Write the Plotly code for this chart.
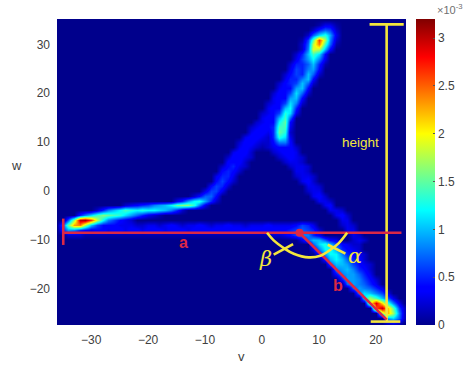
import numpy as np
import plotly.graph_objects as go

# density, in units of 1e-4: (w, first v of the run, values at v, v+1, ...)
density_runs = [
    (34, 10, [1, 3, 3, 1]),
    (33, 9, [2, 5, 7, 6, 2]),
    (32, 8, [2, 7, 11, 13, 9, 3]),
    (31, 7, [1, 6, 15, 26, 17, 8, 2]),
    (30, 7, [2, 7, 18, 24, 14, 7, 1]),
    (29, 7, [2, 8, 19, 18, 10, 4]),
    (28, 6, [2, 5, 10, 14, 11, 4]),
    (27, 6, [3, 6, 9, 12, 8, 3]),
    (26, 5, [2, 5, 5, 7, 10, 5, 1]),
    (25, 5, [3, 6, 5, 8, 9, 4]),
    (24, 4, [2, 4, 6, 5, 10, 7, 2]),
    (23, 4, [3, 5, 5, 8, 10, 4]),
    (22, 3, [2, 4, 5, 6, 10, 7, 2]),
    (21, 3, [3, 4, 4, 9, 10, 4]),
    (20, 2, [2, 4, 4, 6, 11, 7, 2]),
    (19, 2, [3, 4, 4, 9, 10, 4]),
    (18, 1, [2, 3, 4, 6, 11, 8, 2]),
    (17, 1, [3, 4, 4, 10, 12, 5]),
    (16, 0, [2, 3, 4, 6, 13, 11, 3]),
    (15, 0, [3, 4, 4, 10, 14, 7]),
    (14, -1, [2, 3, 4, 4, 12, 15, 4]),
    (13, -2, [2, 3, 4, 4, 5, 14, 14, 3]),
    (12, -2, [3, 4, 4, 3, 5, 15, 13, 2]),
    (11, -3, [3, 4, 4, 3, 2, 5, 13, 11, 3]),
    (10, -4, [2, 4, 4, 3, 2, 2, 4, 8, 8, 4]),
    (9, -4, [3, 4, 3, 2, 1, 2, 3, 4, 4, 4, 2]),
    (8, -5, [3, 4, 4, 2]), (8, 2, [2, 3, 4, 4, 3]),
    (7, -6, [2, 4, 4, 3, 2]), (7, 3, [2, 3, 4, 3, 2]),
    (6, -6, [4, 4, 4, 2]), (6, 4, [2, 3, 3, 2]),
    (5, -7, [2, 4, 5, 3, 2]), (5, 5, [2, 3, 3, 2]),
    (4, -7, [4, 5, 4, 2]), (4, 6, [3, 3, 2]),
    (3, -8, [3, 5, 5, 3]), (3, 6, [2, 3, 3, 2]),
    (2, -8, [4, 6, 4, 2]), (2, 7, [3, 4, 2]),
    (1, -9, [4, 6, 5, 2]), (1, 8, [3, 3, 2]),
    (0, -10, [3, 6, 6, 3]), (0, 8, [2, 3, 3]),
    (-1, -12, [2, 4, 7, 7, 4]), (-1, 9, [3, 4, 2]),
    (-2, -15, [3, 5, 9, 12, 13, 9, 5, 2]), (-2, 10, [3, 3, 2]),
    (-3, -24, [2, 3, 4, 5, 6, 8, 9, 10, 12, 15, 16, 16, 13, 8, 3]), (-3, 11, [3, 4]),
    (-4, -29, [2, 5, 8, 10, 12, 14, 13, 12, 13, 12, 12, 11, 10, 8, 5, 2]), (-4, 12, [3, 3, 2]),
    (-5, -32, [5, 8, 11, 14, 16, 15, 14, 13, 11, 9, 7, 5, 3, 2, 1]), (-5, 13, [3, 4, 2]),
    (-6, -34, [7, 17, 30, 31, 26, 18, 12, 8, 6, 4, 3, 2]), (-6, 14, [3, 3]),
    (-7, -35, [7, 15, 23, 24, 17, 10, 6, 4, 4, 4, 3, 3, 3, 2]),
    (-7, -21, [2, 3, 3, 2, 3, 4, 3, 2, 3, 3, 4, 3, 2, 3, 3, 4, 3, 3, 2, 3, 3, 3, 4, 3, 3]),
    (-7, 4, [3, 3, 4, 6, 5, 3]), (-7, 14, [2, 3, 2]),
    (-8, -35, [5, 9, 8, 5, 4, 3, 4, 4, 3, 4, 4, 3, 4, 4, 3, 4, 4, 4, 3, 4, 4, 4, 3, 4, 4, 4, 4, 4, 4, 4, 4, 4, 4, 4, 4, 4, 4, 4, 4, 4, 5, 6, 7, 6, 5, 2]), (-8, 15, [3, 3]),
    (-9, -34, [2, 2, 2, 1, 1, 1, 1, 1, 1, 1, 1, 1, 1, 1, 1, 1, 1, 1, 1, 1, 1, 1, 1, 1, 1, 1, 1, 1, 1, 1, 1, 1, 1, 1, 1, 1, 2, 2, 3, 4, 6, 8, 8, 5, 3]), (-9, 16, [3, 2]),
    (-10, 7, [3, 7, 10, 10, 7, 4, 3]), (-10, 16, [2, 3, 2]),
    (-11, 9, [7, 11, 13, 10, 6, 4, 3, 2, 2]),
    (-12, 9, [3, 8, 12, 13, 9, 5, 4, 3, 2]),
    (-13, 10, [4, 9, 12, 12, 8, 5, 4, 3, 2]),
    (-14, 11, [5, 10, 12, 10, 7, 5, 4, 2]),
    (-15, 12, [7, 10, 10, 9, 6, 4, 3, 2]),
    (-16, 13, [8, 9, 10, 8, 5, 4, 2]),
    (-17, 13, [4, 8, 9, 9, 7, 5, 3]),
    (-18, 14, [5, 9, 9, 8, 6, 4, 2]),
    (-19, 15, [7, 9, 8, 7, 5, 3]),
    (-20, 16, [7, 9, 8, 7, 5, 3]),
    (-21, 17, [8, 11, 10, 8, 6, 3]),
    (-22, 18, [11, 17, 14, 10, 7, 3]),
    (-23, 19, [19, 29, 21, 14, 8, 3]),
    (-24, 20, [25, 30, 23, 15, 6, 2]),
    (-25, 21, [17, 23, 17, 8, 2]),
    (-26, 22, [9, 11, 7, 2]),
    (-27, 22, [2, 3, 2]),
]

v_values = list(range(-36, 27))
w_values = list(range(-28, 37))

x_ticks = [-30, -20, -10, 0, 10, 20]
y_ticks = [-20, -10, 0, 10, 20, 30]
bar_ticks = [0, 0.5, 1, 1.5, 2, 2.5, 3]
bar_labels = ["0", "0.5", "1", "1.5", "2", "2.5", "3"]

line_a_v, line_a_w = [-34.9, 24.5], [-8.6, -8.6]
cap_a_v, cap_a_w = [-34.9, -34.9], [-5.7, -11.1]
line_b_v, line_b_w = [6.6, 21.9], [-8.6, -26.4]
apex_v, apex_w = [6.6], [-8.6]
height_v, height_w = [21.9, 21.9], [34.1, -26.8]
top_cap_v, top_cap_w = [18.9, 24.9], [34.1, 34.1]
bottom_cap_v, bottom_cap_w = [19.1, 24.3], [-26.8, -26.8]
arc_v = [0.89, 2.06, 3.82, 5.58, 8.22, 10.27, 12.03, 13.5, 14.96]
arc_w = [-8.6, -10.16, -11.73, -12.89, -13.64, -13.3, -12.07, -10.71, -8.6]
beta_tick_v, beta_tick_w = [2.06, 5.47], [-13.1, -10.91]
alpha_tick_v, alpha_tick_w = [11.56, 14.66], [-11.05, -12.89]

density = np.zeros((len(w_values), len(v_values)))
for w, v0, vals in density_runs:
    for k, val in enumerate(vals):
        density[w - w_values[0], v0 + k - v_values[0]] = val / 10.0

jet = [
    [0.0, "rgb(0,0,140)"], [0.11, "rgb(0,0,255)"], [0.125, "rgb(0,0,255)"],
    [0.375, "rgb(0,255,255)"], [0.625, "rgb(255,255,0)"],
    [0.875, "rgb(255,0,0)"], [1.0, "rgb(128,0,0)"],
]

GREY = "#404040"
RED = "#dc2846"
YELLOW = "#f4e63c"
FONT = "Liberation Sans"

fig = go.Figure()
fig.add_trace(go.Heatmap(
    x=v_values, y=w_values, z=density, zmin=0, zmax=3.2, zsmooth="best",
    colorscale=jet, hoverinfo="skip",
    colorbar=dict(
        x=1.0286, xanchor="left", xpad=0, y=0, yanchor="bottom", ypad=0, len=1,
        thickness=19, outlinewidth=0,
        tickmode="array", tickvals=bar_ticks, ticktext=bar_labels,
        ticks="inside", ticklen=2, tickcolor="#555555",
        tickfont=dict(family=FONT, size=12, color=GREY),
    ),
))


def add_line(v, w, color, width=2.6):
    fig.add_trace(go.Scatter(x=v, y=w, mode="lines", line=dict(color=color, width=width),
                             hoverinfo="skip", showlegend=False))


add_line(height_v, height_w, YELLOW)
add_line(top_cap_v, top_cap_w, YELLOW)
add_line(bottom_cap_v, bottom_cap_w, YELLOW)
add_line(line_a_v, line_a_w, RED)
add_line(cap_a_v, cap_a_w, RED)
add_line(line_b_v, line_b_w, RED)
add_line(beta_tick_v, beta_tick_w, YELLOW)
add_line(alpha_tick_v, alpha_tick_w, YELLOW)
fig.add_trace(go.Scatter(x=arc_v, y=arc_w, mode="lines",
                         line=dict(color=YELLOW, width=2.6, shape="spline"),
                         hoverinfo="skip", showlegend=False))
fig.add_trace(go.Scatter(x=apex_v, y=apex_w, mode="markers",
                         marker=dict(color=RED, size=8), hoverinfo="skip", showlegend=False))


def note(text, v, w, color, size, family=FONT, bold=False):
    label = f"<b>{text}</b>" if bold else text
    fig.add_annotation(x=v, y=w, xref="x", yref="y", text=label, showarrow=False,
                       font=dict(family=family, size=size, color=color))


note("a", -13.7, -10.6, RED, 16, bold=True)
note("b", 13.4, -19.5, RED, 16, bold=True)
note("height", 17.3, 9.9, YELLOW, 13.5)
note("<i>β</i>", 0.6, -13.9, YELLOW, 21, family="DejaVu Serif")
note("<i>α</i>", 16.4, -13.3, YELLOW, 21, family="DejaVu Serif")

# outside-the-plot labels hang off the plot edge by a pixel shift, so they do not push the margins
fig.add_annotation(x=-36, y=5.1, xref="x", yref="y", xshift=-41, text="w", showarrow=False,
                   font=dict(family=FONT, size=13, color=GREY))
fig.add_annotation(x=-3.6, y=-27.5, xref="x", yref="y", yshift=-31, text="v", showarrow=False,
                   font=dict(family=FONT, size=13, color=GREY))
fig.add_annotation(x=25.3, y=35.2, xref="x", yref="y", xshift=44, yshift=10, text="×10<sup>-3</sup>",
                   showarrow=False, font=dict(family=FONT, size=11, color="#707070"))

fig.update_layout(
    width=474, height=372, autosize=False,
    margin=dict(l=57, r=68.3, t=19, b=46.5),
    paper_bgcolor="white", plot_bgcolor="rgb(0,0,140)",
    font=dict(family=FONT, size=12, color=GREY),
    showlegend=False,
    xaxis=dict(range=[-36, 25.3], tickmode="array", tickvals=x_ticks, showgrid=False, zeroline=False,
               ticks="", ticklabelstandoff=6),
    yaxis=dict(range=[-27.5, 35.2], tickmode="array", tickvals=y_ticks, showgrid=False, zeroline=False,
               ticks="", ticklabelstandoff=6),
)

fig.write_html("out.html", config={"displayModeBar": False},
               post_script="document.body.style.margin='0';document.body.style.overflow='hidden';")
